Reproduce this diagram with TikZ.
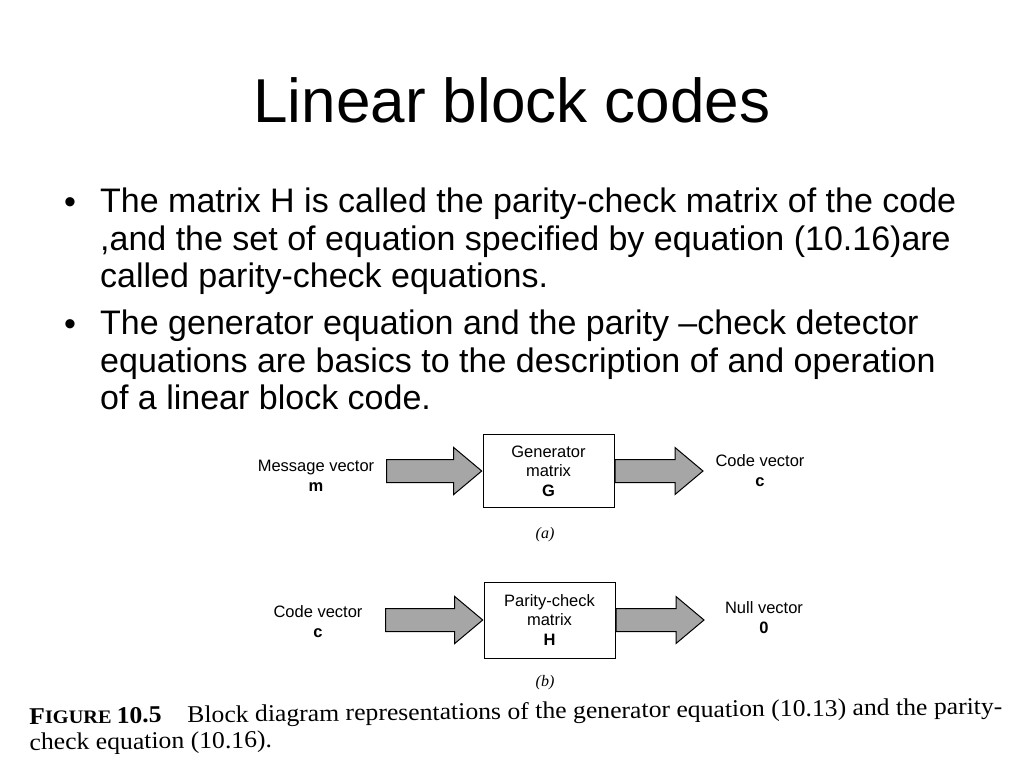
\documentclass[tikz,border=0pt]{standalone}
\usepackage{fontspec}
\setmainfont{Liberation Serif}
\newfontfamily\slidesans{Liberation Sans}
\usetikzlibrary{shapes.arrows,positioning}

\tikzset{
  blockbox/.style={draw, line width=1pt, minimum width=131pt, minimum height=73pt,
    inner sep=0pt, align=center, font=\slidesans\fontsize{16.5}{19.5}\selectfont},
  fatarrow/.style={single arrow, draw, line width=1pt, fill=black!35, inner xsep=0pt,
    inner ysep=11pt, single arrow head extend=12pt, single arrow tip angle=80},
  veclabel/.style={align=center, font=\slidesans\fontsize{16.5}{20}\selectfont},
  sublabel/.style={font=\itshape\fontsize{16}{16}\selectfont},
  bullettext/.style={anchor=north west, inner sep=0pt, align=left,
    font=\slidesans\fontsize{34}{37.5}\selectfont}
}

\begin{document}
\begin{tikzpicture}[x=1pt,y=1pt]
%%Location
\useasboundingbox (0,0) rectangle (1024,-768);

%%Title
\node[anchor=base, font=\slidesans\fontsize{62}{62}\selectfont] (title) at (512,-122) {Linear block codes};

%%Bullets
\node[anchor=base, font=\slidesans\fontsize{34}{34}\selectfont] (dotone) at (70,-213) {\textbullet};
\node[bullettext] (itemone) at (100,-188) {The matrix H is called the parity-check matrix of the code\\
,and the set of equation specified by equation (10.16)are\\
called parity-check equations.};
\node[anchor=base, font=\slidesans\fontsize{34}{34}\selectfont] (dottwo) at (70,-335) {\textbullet};
\node[bullettext] (itemtwo) at (100,-310) {The generator equation and the parity –check detector\\
equations are basics to the description of and operation\\
of a linear block code.};

%%(a)
\node[blockbox] (genbox) at (548.5,-471) {Generator\\matrix\\\textbf{G}};
\node[fatarrow, minimum height=95pt, anchor=tip] (msgarrow) at (genbox.west) {};
\node[fatarrow, minimum height=88pt, anchor=tail] (codearrow) at (genbox.east) {};
\node[veclabel] (msg) at (316,-476) {Message vector\\\textbf{m}};
\node[veclabel] (codeout) at (760,-471) {Code vector\\\textbf{c}};
\node[sublabel] (suba) at (545,-535) {(a)};

%%(b)
\node[blockbox, minimum height=76pt] (parbox) at (549.5,-620) {Parity-check\\matrix\\\textbf{H}};
\node[fatarrow, minimum height=97pt, anchor=tip] (codearrowb) at (parbox.west) {};
\node[fatarrow, minimum height=88pt, anchor=tail] (nullarrow) at (parbox.east) {};
\node[veclabel] (codein) at (318,-622) {Code vector\\\textbf{c}};
\node[veclabel] (nullout) at (764,-618) {Null vector\\\textbf{0}};
\node[sublabel] (subb) at (545,-683) {(b)};

%%Caption
\node[anchor=north west, inner sep=0pt, align=left, rotate=0.58, xscale=1.07,
  font=\fontsize{24}{26}\selectfont] (caption) at (29,-707)
  {{\bfseries F\fontsize{19}{26}\selectfont IGURE \fontsize{24}{26}\selectfont 10.5}\quad Block diagram representations of the generator equation (10.13) and the parity-\\
check equation (10.16).};

\end{tikzpicture}
\end{document}
